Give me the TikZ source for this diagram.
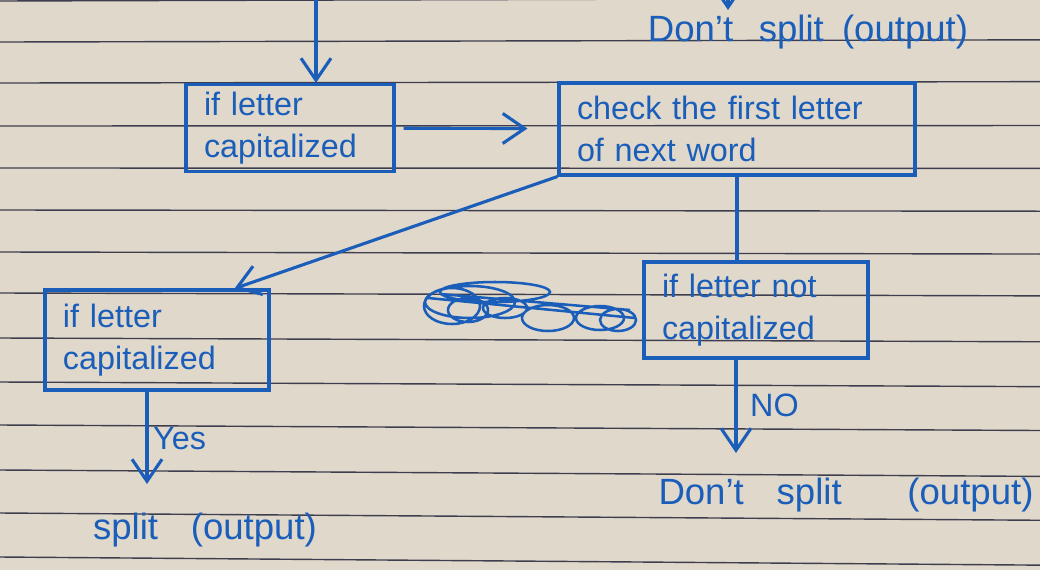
\documentclass[tikz,border=0pt]{standalone}
\usepackage{fontspec}
\setmainfont{Liberation Sans}
\usetikzlibrary{arrows.meta}
\definecolor{paper}{RGB}{223,216,203}
\definecolor{rule}{RGB}{62,62,78}
\definecolor{inkblue}{RGB}{26,94,186}
\newcommand{\handfont}{\fontsize{23}{30}\selectfont}
\newcommand{\bigfont}{\fontsize{26}{30}\selectfont}
\newcommand{\gap}{\hspace{0.9em}}

\begin{document}
\begin{tikzpicture}[x=0.25mm,y=-0.25mm,
    pen/.style={draw=inkblue,line width=2.2pt},
    box/.style={pen,rectangle,align=left,text=inkblue,font=\handfont,inner xsep=4.5mm,inner ysep=0pt},
    flow/.style={pen,-{Straight Barb[length=5.5mm,width=7.5mm]}},
    hand/.style={text=inkblue,font=\handfont},
    outtext/.style={text=inkblue,font=\bigfont}]
    \clip (0,0) rectangle (1040,570);
    \fill[paper] (0,0) rectangle (1040,570);
    % ruled paper
    \foreach \y in {1,42,83,126,168,210,252,293,338,382,425,470,513,557}
        \draw[rule,line width=1pt] (0,\y) -- (1040,{\y+0.02*\y-3});

    \node[box,text width=43mm,minimum height=21.75mm] (capA)   at (290,128) {if letter\\capitalized};
    \node[box,text width=80mm,minimum height=23mm]    (check)  at (737,129) {check the first letter\\of next word};
    \node[box,text width=47mm,minimum height=25mm]    (capB)   at (157,340) {if letter\\capitalized};
    \node[box,text width=47mm,minimum height=24mm]    (notcap) at (756,310) {if letter not\\capitalized};
    \node[outtext] (outTop) at (808,32)  {Don't\hspace{0.7em}split\hspace{0.5em}(output)};
    \node[outtext] (outYes) at (205,530) {split\gap (output)};
    \node[outtext] (outNo)  at (846,495) {Don't\gap split\gap\gap (output)};
    \coordinate (fromAbove)  at (316,-40);
    \coordinate (fromAboveR) at (728,-40);
    \coordinate (yesStart) at ([xshift=-2.5mm]capB.south);
    \coordinate (noStart)  at ([xshift=-5mm]notcap.south);

    \draw[flow] (fromAbove) -- (fromAbove |- capA.north);
    \draw[flow] (fromAboveR) -- (fromAboveR |- outTop.north);
    \draw[flow,shorten <=2mm,shorten >=7.5mm] (capA) -- (check);
    \draw[flow] (check.south west) -- ([xshift=-9mm]capB.north east);
    \draw[pen] (check.south) -- (check.south |- notcap.north);
    \draw[flow,shorten >=6mm] (yesStart) -- (yesStart |- outYes.north)
        node[pos=.4,right,hand] {Yes};
    \draw[flow,shorten >=5mm] (noStart) -- (noStart |- outNo.north)
        node[pos=.4,right,hand,xshift=2mm] {NO};

    % crossed out
    \draw[inkblue,line width=1.8pt]
        (470,302) ellipse [x radius=45,y radius=16]
        (495,292) ellipse [x radius=55,y radius=10]
        (452,306) ellipse [x radius=28,y radius=18]
        (468,310) ellipse [x radius=20,y radius=12]
        (505,308) ellipse [x radius=22,y radius=10]
        (548,318) ellipse [x radius=26,y radius=13]
        (600,318) ellipse [x radius=24,y radius=12]
        (618,320) ellipse [x radius=18,y radius=11]
        (428,298) -- (635,318)
        (440,294) -- (630,310);
\end{tikzpicture}
\end{document}
